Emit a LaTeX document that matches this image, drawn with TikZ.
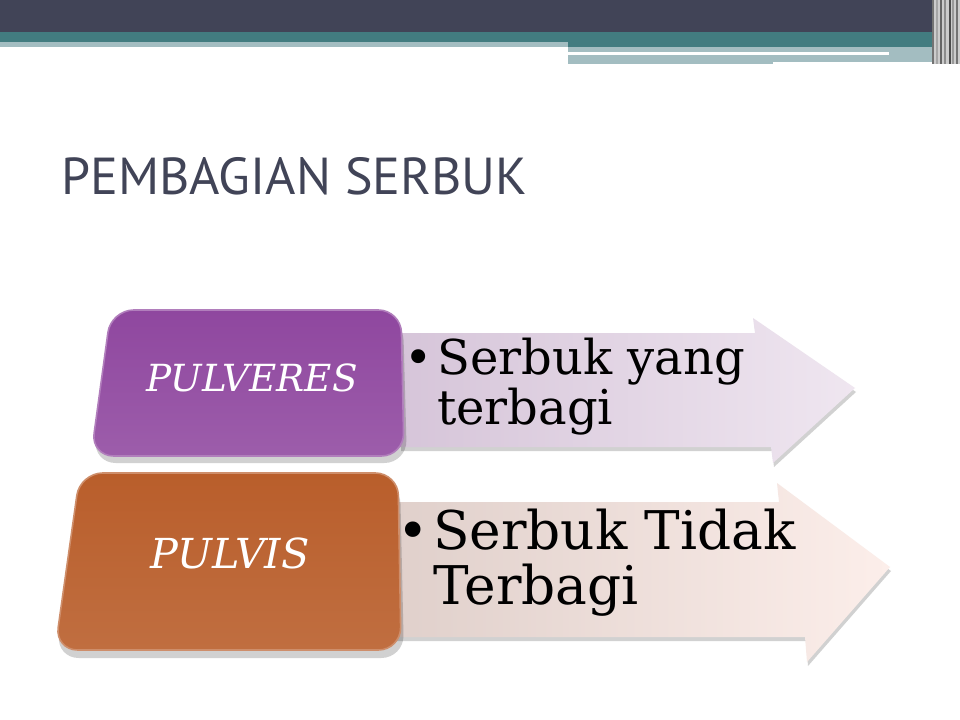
\documentclass[tikz,border=0pt]{standalone}
\usepackage{fontspec}
\setmainfont{DejaVu Serif}
\newfontfamily\titlefont{PT Sans}
\usetikzlibrary{calc,positioning}

\definecolor{barDark}{HTML}{414457}
\definecolor{barTeal}{HTML}{427C80}
\definecolor{barLight}{HTML}{A3BDC1}
\definecolor{titleGrey}{HTML}{414457}
\definecolor{pulPurple}{HTML}{8F479F}
\definecolor{pulOrange}{HTML}{B95E2B}
\definecolor{lavLeft}{HTML}{D6C5D9}
\definecolor{lavRight}{HTML}{EFE6F0}
\definecolor{peachLeft}{HTML}{E0D0CB}
\definecolor{peachRight}{HTML}{FCEEEA}

\tikzset{
    softshadow/.style={fill=black,opacity=0.18},
    keybox/.style={rounded corners=17},
    keylabel/.style={text=white,font=\itshape},
    itemtext/.style={anchor=base west,align=left,text=black,inner sep=0pt},
}

\begin{document}
\begin{tikzpicture}[x=0.75pt,y=-0.75pt]
                \useasboundingbox (0,0) rectangle (960,720);
                \fill[white] (0,0) rectangle (960,720);

                % header bars
                \fill[barDark] (0,0) rectangle (960,32);
                \fill[barTeal] (0,32) rectangle (960,42);
                \fill[barLight] (0,42) rectangle (568,47);
                \fill[barTeal] (568,42) rectangle (960,47);
                \fill[barLight] (568,47) rectangle (945,62);
                \fill[white] (568,52) rectangle (889,55);
                \fill[barLight] (568,62) rectangle (773,64);
                \fill[black!20] (932,0) rectangle (960,64);
                \foreach \xx/\shade in {933/55,937/35,941/60,945/45,950/70,953/40,957/55}
                    \draw[black!\shade,line width=1] (\xx,0) -- (\xx,64);

                % title
                \node[anchor=base west,inner sep=0pt,text=titleGrey,
                      font=\titlefont\fontsize{39}{46}\selectfont] (title) at (61,195) {PEMBAGIAN SERBUK};

                % first row
                \coordinate (a1) at (400,333);
                \coordinate (a2) at (755,333);
                \coordinate (a3) at (753,318);
                \coordinate (a4) at (855,388);
                \coordinate (a5) at (773,463);
                \coordinate (a6) at (771,447);
                \coordinate (a7) at (400,447);
                \fill[softshadow] ($(a1)+(1,4)$) -- ($(a2)+(1,4)$) -- ($(a3)+(1,4)$) -- ($(a4)+(1,4)$)
                    -- ($(a5)+(1,4)$) -- ($(a6)+(1,4)$) -- ($(a7)+(1,4)$) -- cycle;
                \shade[left color=lavLeft,right color=lavRight] (a1) -- (a2) -- (a3) -- (a4) -- (a5) -- (a6) -- (a7) -- cycle;
                \node[itemtext,font=\fontsize{36}{37}\selectfont] (pulveresText) at (437,424)
                    {\llap{\textbullet\hspace{3pt}}Serbuk yang\\terbagi};

                \fill[softshadow,keybox] (111,318) -- (403,318) -- (407,463) -- (93,463) -- cycle;
                \shade[keybox,top color=pulPurple,bottom color=pulPurple!88!white,draw=pulPurple!70!white,line width=1.2]
                    (111,310) -- (401,310) -- (404,456) -- (91,456) -- cycle;
                \node[keylabel,font=\itshape\fontsize{28}{30}\selectfont] (pulveres) at (252,378) {PULVERES};

                % second row
                \coordinate (b1) at (395,502);
                \coordinate (b2) at (779,502);
                \coordinate (b3) at (777,483);
                \coordinate (b4) at (890,567);
                \coordinate (b5) at (807,662);
                \coordinate (b6) at (805,637);
                \coordinate (b7) at (395,637);
                \fill[softshadow] ($(b1)+(1,4)$) -- ($(b2)+(1,4)$) -- ($(b3)+(1,4)$) -- ($(b4)+(1,4)$)
                    -- ($(b5)+(1,4)$) -- ($(b6)+(1,4)$) -- ($(b7)+(1,4)$) -- cycle;
                \shade[left color=peachLeft,right color=peachRight] (b1) -- (b2) -- (b3) -- (b4) -- (b5) -- (b6) -- (b7) -- cycle;
                \node[itemtext,font=\fontsize{40}{41}\selectfont] (pulvisText) at (433,604)
                    {\llap{\textbullet\hspace{3pt}}Serbuk Tidak\\Terbagi};

                \fill[softshadow,keybox] (80,481) -- (400,481) -- (404,658) -- (56,658) -- cycle;
                \shade[keybox,top color=pulOrange,bottom color=pulOrange!90!white,draw=pulOrange!70!white,line width=1.2]
                    (80,473) -- (398,473) -- (401,650) -- (55,650) -- cycle;
                \node[keylabel,font=\itshape\fontsize{31}{33}\selectfont] (pulvis) at (230,553) {PULVIS};
\end{tikzpicture}
\end{document}
